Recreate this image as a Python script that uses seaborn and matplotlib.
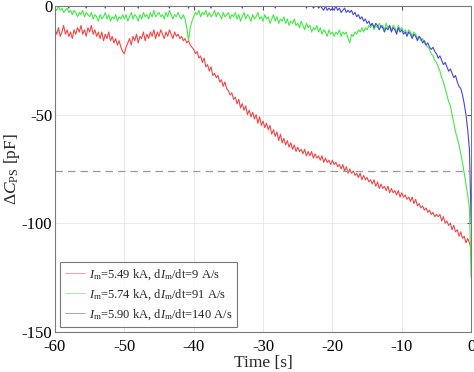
import numpy as np
import pandas as pd
import seaborn as sns
from matplotlib import pyplot as plt

# time axis, 0.25 s sampling from -60 s to 0 s
time = np.arange(-60, 0.001, 0.25)

# delta C_PS [pF] (one row = 5 s)
red = [
    -11, -13, -10, -14, -12, -9, -13, -11, -14, -12, -15, -11, -13, -10, -12, -9, -13, -11, -14, -10,
    -12, -9, -13, -11, -14, -12, -15, -12, -16, -13, -15, -12, -16, -14, -17, -15, -18, -16, -19, -21,
    -22, -19, -17, -15, -18, -14, -16, -13, -17, -14, -15, -12, -16, -13, -15, -12, -14, -11, -15, -12,
    -14, -11, -13, -15, -12, -14, -11, -13, -15, -12, -14, -13, -15, -14, -16, -15, -17, -16, -18, -19,
    -20, -22, -21, -24, -23, -26, -24, -28, -27, -30, -28, -32, -31, -33, -32, -35, -34, -37, -35, -38,
    -39, -41, -40, -43, -42, -45, -43, -47, -45, -48, -46, -50, -48, -51, -49, -52, -50, -54, -51, -55,
    -53, -56, -54, -57, -55, -59, -57, -60, -58, -62, -59, -63, -61, -64, -62, -65, -63, -66, -64, -67,
    -65, -67, -66, -68, -66, -69, -67, -69, -67, -70, -68, -70, -69, -71, -69, -72, -70, -72, -71, -73,
    -71, -73, -72, -74, -73, -75, -73, -76, -74, -77, -75, -77, -76, -78, -77, -79, -77, -80, -78, -80,
    -79, -81, -80, -82, -80, -83, -81, -84, -82, -84, -83, -85, -83, -86, -84, -86, -85, -87, -85, -88,
    -86, -88, -87, -89, -88, -90, -88, -91, -89, -92, -91, -93, -92, -94, -93, -95, -94, -96, -95, -97,
    -96, -97, -96, -99, -97, -100, -99, -101, -100, -103, -101, -104, -103, -106, -104, -107, -106, -109, -107, -109,
    -112,
]
green = [
    -1, -2, 0, -2, -1, -3, -2, -1, -3, -2, -4, -2, -3, -5, -3, -4, -2, -5, -3, -4,
    -5, -3, -6, -4, -5, -7, -4, -6, -5, -3, -6, -4, -7, -5, -6, -4, -7, -5, -6, -4,
    -6, -4, -7, -5, -3, -6, -4, -5, -7, -4, -6, -3, -5, -4, -6, -3, -5, -2, -5, -4,
    -3, -5, -4, -6, -3, -5, -2, -4, -6, -4, -5, -3, -5, -6, -4, -6, -10, -16, -10, -7,
    -5, -3, -4, -2, -5, -3, -4, -2, -5, -3, -5, -4, -2, -5, -3, -4, -6, -3, -5, -4,
    -3, -6, -4, -5, -3, -6, -4, -7, -5, -3, -6, -4, -5, -7, -4, -6, -5, -3, -6, -5,
    -7, -4, -6, -5, -8, -6, -4, -7, -5, -8, -6, -7, -5, -8, -6, -9, -7, -8, -6, -9,
    -8, -10, -7, -9, -11, -8, -10, -9, -12, -10, -11, -9, -12, -10, -13, -11, -12, -14, -11, -13,
    -12, -14, -12, -13, -11, -14, -12, -13, -12, -15, -17, -13, -14, -12, -13, -11, -12, -10, -12, -10,
    -11, -9, -10, -8, -11, -9, -10, -8, -10, -9, -11, -8, -10, -9, -11, -9, -10, -12, -9, -11,
    -10, -12, -11, -13, -11, -12, -14, -12, -13, -15, -14, -16, -15, -17, -18, -19, -20, -22, -23, -25,
    -26, -28, -30, -33, -35, -38, -41, -44, -46, -50, -54, -58, -61, -64, -68, -72, -77, -82, -87, -93,
    -125,
]
blue = [
    2, 1, 3, 0, 2, 1, 3, 2, -1, 2, 1, 3, 2, 0, 2, 3, 1, 2, -1, 1,
    2, 3, 1, 2, 0, 3, 1, 2, 3, -1, 2, 1, 3, 2, 1, 0, 2, 3, 1, 2,
    3, 1, 2, 0, 2, 1, 3, 2, -1, 1, 2, 3, 1, 2, 0, 3, 2, 1, 2, 3,
    1, 0, 2, 3, 1, 2, -1, 2, 3, 1, 2, 0, 3, 2, 1, 2, 3, -1, 2, 1,
    2, 3, 1, 2, 0, 3, 1, 2, 3, 1, -1, 2, 3, 1, 2, 0, 3, 2, 1, 2,
    3, 1, 2, 0, 2, 3, 1, 2, -1, 2, 3, 1, 2, 0, 3, 1, 2, 3, 1, 2,
    1, 2, 0, 3, 1, 2, 3, -1, 2, 1, 3, 2, 0, 2, 1, 3, 2, 1, 0, 2,
    1, 2, 0, 1, 2, -1, 1, 0, 1, -1, 0, 1, -1, 0, -1, -2, 0, -2, -1, -2,
    -1, -2, 0, -2, -1, -3, -2, -1, -3, -2, -3, -2, -4, -3, -5, -4, -6, -5, -7, -6,
    -8, -7, -9, -8, -10, -8, -9, -11, -9, -10, -12, -10, -11, -9, -12, -10, -11, -13, -10, -12,
    -11, -13, -12, -14, -12, -13, -15, -13, -14, -16, -14, -15, -17, -16, -18, -17, -19, -20, -19, -21,
    -22, -24, -23, -25, -27, -26, -28, -30, -29, -31, -33, -32, -35, -37, -38, -41, -45, -50, -57, -66,
    -100,
]

labels = [
    r'$I_{\rm m}$=5.49 kA, d$I_{\rm m}$/dt=9 A/s',
    r'$I_{\rm m}$=5.74 kA, d$I_{\rm m}$/dt=91 A/s',
    r'$I_{\rm m}$=5.90 kA, d$I_{\rm m}$/dt=140 A/s',
]
colors = ['#f24545', '#45e845', '#4545e0']
threshold = -76

sns.set_style("white")
plt.rcParams['font.family'] = ['Liberation Serif', 'DejaVu Serif']
plt.rcParams['mathtext.fontset'] = 'custom'
plt.rcParams['mathtext.rm'] = 'Liberation Serif'
plt.rcParams['mathtext.it'] = 'Liberation Serif:italic'
plt.rcParams['axes.unicode_minus'] = False

fig = plt.figure(figsize=(4.74, 3.72), dpi=100)
ax = fig.add_axes([0.116, 0.108, 0.878, 0.876])

for series, lab, col in zip([red, green, blue], labels, colors):
    df = pd.DataFrame({'t': time, 'c': series})
    sns.lineplot(data=df, x='t', y='c', color=col, lw=0.8, label=lab, ax=ax)

ax.axhline(threshold, color='#999999', ls=(0, (6, 4)), lw=0.9)

ax.set_xlim(-60, 0)
ax.set_ylim(-150, 0)
ax.set_xticks([-60, -50, -40, -30, -20, -10, 0])
ax.set_yticks([-150, -100, -50, 0])
ax.grid(True, color='#e6e6e6', lw=0.6)
ax.tick_params(direction='in', length=3, width=0.6, top=True, right=True,
               labelsize=12, colors='#333333', labelcolor='black')
ax.tick_params(axis='x', pad=5)
ax.tick_params(axis='y', pad=2)
for s in ax.spines.values():
    s.set_color('#7a7a7a')
    s.set_linewidth(0.8)

ax.set_xlabel('Time [s]', fontsize=12.5, labelpad=0)
ax.set_ylabel(r'$\Delta C_{\rm PS}$ [pF]', fontsize=12.5, labelpad=0)

leg = ax.legend(loc='lower left', fontsize=9, handlelength=1.6, handletextpad=0.3,
                borderaxespad=0.4, borderpad=0.4, labelspacing=0.45, fancybox=False,
                frameon=True, edgecolor='#555555')
leg.get_frame().set_linewidth(0.8)
for line in leg.get_lines():
    line.set_linewidth(0.6)
    line.set_alpha(0.6)

fig.savefig('out.png', dpi=100)
